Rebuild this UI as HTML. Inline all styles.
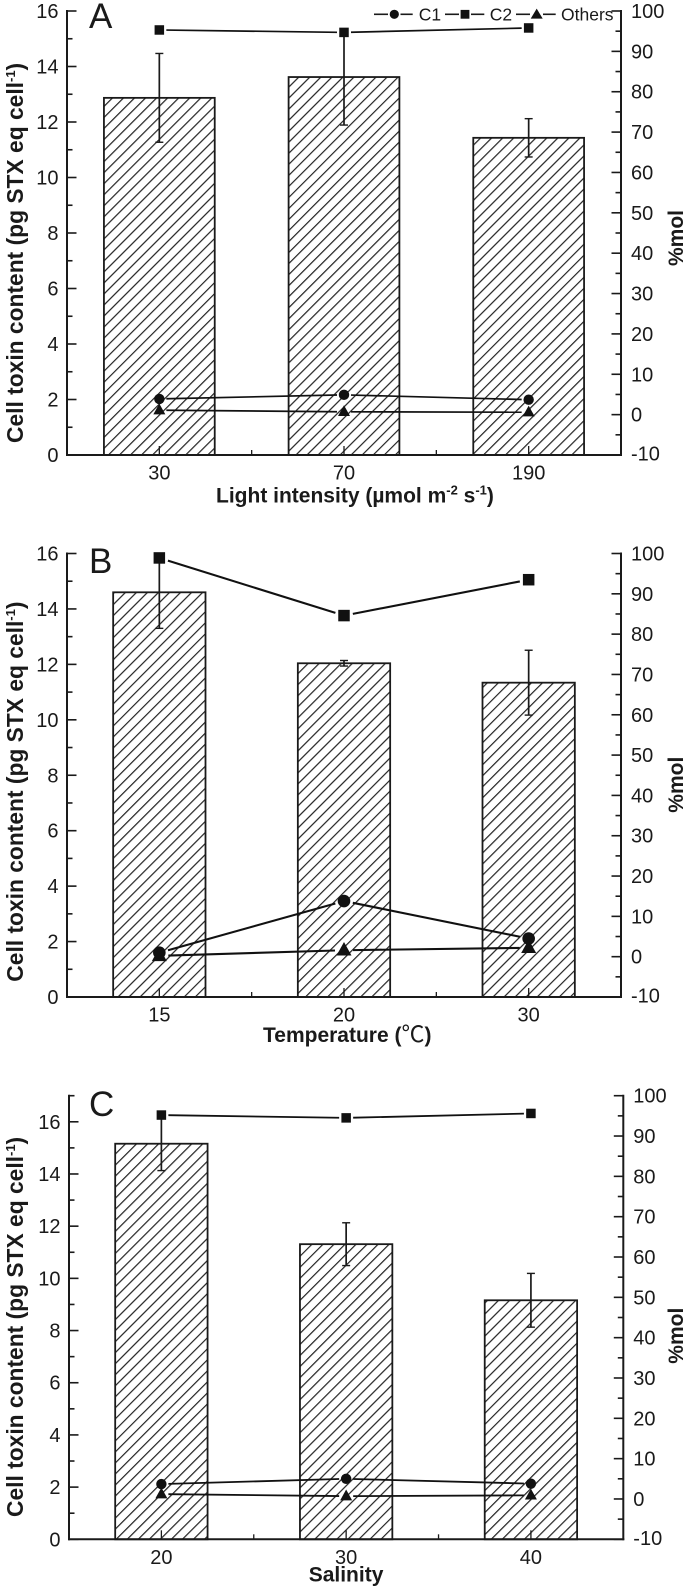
<!DOCTYPE html>
<html lang="en">
<head>
<meta charset="utf-8">
<title>Cell toxin content under light, temperature and salinity</title>
<style>
html,body{margin:0;padding:0;background:#fff;}
svg{display:block;}
text{font-family:"Liberation Sans","Noto Sans CJK SC",sans-serif;fill:#1a1a1a;}
.tick{font-size:20px;}
.title{font-size:21px;font-weight:bold;}
.ytitle{font-size:22.8px;font-weight:bold;}
.letter{font-size:35px;}
.leg{font-size:17.5px;}
</style>
</head>
<body>
<svg id="figure" width="685" height="1589" viewBox="0 0 685 1589" xmlns="http://www.w3.org/2000/svg">
  <defs>
    <pattern id="hatch" patternUnits="userSpaceOnUse" width="7.8" height="7.8" patternTransform="rotate(-45)">
      <line x1="0" y1="0.6" x2="7.8" y2="0.6" stroke="#222" stroke-width="1.2"/>
    </pattern>
  </defs>
  <rect width="685" height="1589" fill="#fff"/>

  <g id="panel-a"></g>
  <g id="panel-b"></g>
  <g id="panel-c"></g>

  <text class="letter" x="89" y="28">A</text>
  <text class="letter" x="89" y="573">B</text>
  <text class="letter" x="89" y="1116">C</text>

  <text class="ytitle" transform="translate(23,443) rotate(-90)">Cell toxin content (pg STX eq cell<tspan font-size="13" dy="-8">-1</tspan><tspan dy="8">)</tspan></text>
  <text class="ytitle" transform="translate(23,981.7) rotate(-90)">Cell toxin content (pg STX eq cell<tspan font-size="13" dy="-8">-1</tspan><tspan dy="8">)</tspan></text>
  <text class="ytitle" transform="translate(23,1517) rotate(-90)">Cell toxin content (pg STX eq cell<tspan font-size="13" dy="-8">-1</tspan><tspan dy="8">)</tspan></text>

  <text class="title" text-anchor="end" transform="translate(683,210) rotate(-90)">%mol</text>
  <text class="title" text-anchor="end" transform="translate(683,756.7) rotate(-90)">%mol</text>
  <text class="title" text-anchor="end" transform="translate(683,1307.7) rotate(-90)">%mol</text>

  <text class="title" x="216" y="502.7">Light intensity (µmol m<tspan font-size="13" dy="-8">-2</tspan><tspan dy="8"> s</tspan><tspan font-size="13" dy="-8">-1</tspan><tspan dy="8">)</tspan></text>
  <text class="title" x="263" y="1042">Temperature (<tspan font-weight="normal" font-size="23">℃</tspan>)</text>
  <text class="title" x="308.7" y="1581.7">Salinity</text>

  <g>
    <g>
      <line x1="374" y1="14.3" x2="388" y2="14.3" stroke="#1a1a1a" stroke-width="1.6"/>
      <line x1="400.5" y1="14.3" x2="412.7" y2="14.3" stroke="#1a1a1a" stroke-width="1.6"/>
      <circle cx="394.3" cy="14.3" r="4.6" fill="#111"/>
      <text class="leg" x="418.7" y="20.5">C1</text>
    </g>
    <g>
      <line x1="445" y1="14.3" x2="459" y2="14.3" stroke="#1a1a1a" stroke-width="1.6"/>
      <line x1="471" y1="14.3" x2="484.3" y2="14.3" stroke="#1a1a1a" stroke-width="1.6"/>
      <rect x="460.6" y="9.9" width="8.8" height="8.8" fill="#111"/>
      <text class="leg" x="489.7" y="20.5">C2</text>
    </g>
    <g>
      <line x1="516" y1="14.3" x2="530" y2="14.3" stroke="#1a1a1a" stroke-width="1.6"/>
      <line x1="543" y1="14.3" x2="555.7" y2="14.3" stroke="#1a1a1a" stroke-width="1.6"/>
      <polygon points="536.7,8.6 542.7,18.6 530.7,18.6" fill="#111"/>
      <text class="leg" x="561" y="20.5">Others</text>
    </g>
  </g>
</svg>

<script>
// Tick labels
var leftTickLabels = [0, 2, 4, 6, 8, 10, 12, 14, 16];
var rightTickLabels = [-10, 0, 10, 20, 30, 40, 50, 60, 70, 80, 90, 100];

// Panel A: light intensity
var lightCategories = ['30', '70', '190'];
var lightToxin = [12.87, 13.62, 11.43];
var lightError = [1.6, 1.73, 0.69];
var lightC1 = [3.9, 4.9, 3.7];
var lightC2 = [95.3, 94.7, 95.8];
var lightOthers = [1.1, 0.7, 0.6];

// Panel B: temperature
var tempCategories = ['15', '20', '30'];
var tempToxin = [14.6, 12.04, 11.34];
var tempError = [1.3, 0.1, 1.17];
var tempC1 = [1.0, 13.8, 4.5];
var tempC2 = [98.9, 84.6, 93.5];
var tempOthers = [0.2, 1.6, 2.2];

// Panel C: salinity
var salinityCategories = ['20', '30', '40'];
var salinityToxin = [15.16, 11.31, 9.16];
var salinityError = [1.03, 0.82, 1.03];
var salinityC1 = [3.7, 5.0, 3.8];
var salinityC2 = [95.2, 94.5, 95.6];
var salinityOthers = [1.2, 0.7, 0.9];

var NS = 'http://www.w3.org/2000/svg';
var INK = '#1a1a1a';

function node(parent, tag, attrs) {
  var el = document.createElementNS(NS, tag);
  for (var k in attrs) el.setAttribute(k, attrs[k]);
  parent.appendChild(el);
  return el;
}

function drawPanel(cfg, categories, toxin, error, c1, c2, others) {
  var root = document.getElementById(cfg.id);
  var step = (cfg.x1 - cfg.x0) / categories.length;
  function xScale(i) { return cfg.x0 + (i + 0.5) * step; }
  function yLeft(v) { return cfg.bottom - v * (cfg.bottom - cfg.top) / cfg.leftMax; }
  function yRight(v) { return cfg.bottom - (v + 10) * (cfg.bottom - cfg.top) / 110; }
  var barWidth = step * cfg.barFrac;

  // bars
  toxin.forEach(function (v, i) {
    var el = node(root, 'rect', {
      x: xScale(i) - barWidth / 2, y: yLeft(v), width: barWidth, height: yLeft(0) - yLeft(v),
      fill: 'url(#hatch)', stroke: INK, 'stroke-width': 1.8
    });
    
    
  });

  // x ticks and labels
  categories.forEach(function (c, i) {
    var t = node(root, 'line', { x1: xScale(i), x2: xScale(i), y1: cfg.bottom, y2: cfg.bottom - 9, stroke: INK, 'stroke-width': 1.3 });
    
    
    var lab = node(root, 'text', { 'class': 'tick', x: xScale(i), y: cfg.bottom + 24.5, 'text-anchor': 'middle' });
    lab.textContent = c;
    
    
    if (i < categories.length - 1) {
      var m = node(root, 'line', { x1: xScale(i + 0.5), x2: xScale(i + 0.5), y1: cfg.bottom, y2: cfg.bottom - 5, stroke: INK, 'stroke-width': 1.3 });
      
      
    }
  });

  // left axis
  var la = node(root, 'line', { x1: cfg.x0, x2: cfg.x0, y1: cfg.top - 1, y2: cfg.bottom + 1, stroke: INK, 'stroke-width': 2 });
  
  
  for (var v = 0; v <= cfg.leftMax; v++) {
    var major = leftTickLabels.indexOf(v) >= 0;
    var lt = node(root, 'line', { x1: cfg.x0, x2: cfg.x0 + (major ? 9.5 : 5.5), y1: yLeft(v), y2: yLeft(v), stroke: INK, 'stroke-width': 1.6 });
    
    
  }
  leftTickLabels.forEach(function (v) {
    var lab = node(root, 'text', { 'class': 'tick', x: cfg.x0 - 8.5, y: yLeft(v) + 7, 'text-anchor': 'end' });
    lab.textContent = v;
    
    
  });

  // right axis
  var ra = node(root, 'line', { x1: cfg.x1, x2: cfg.x1, y1: cfg.top - 1, y2: cfg.bottom + 1, stroke: INK, 'stroke-width': 2 });
  
  
  rightTickLabels.forEach(function (v, i) {
    var rt = node(root, 'line', { x1: cfg.x1, x2: cfg.x1 - 9.5, y1: yRight(v), y2: yRight(v), stroke: INK, 'stroke-width': 1.6 });
    
    
    if (i < rightTickLabels.length - 1) {
      var rm = node(root, 'line', { x1: cfg.x1, x2: cfg.x1 - 5.5, y1: yRight(v + 5), y2: yRight(v + 5), stroke: INK, 'stroke-width': 1.6 });
      
      
    }
    var lab = node(root, 'text', { 'class': 'tick', x: cfg.x1 + 10, y: yRight(v) + (v === -10 ? 5.5 : 7) });
    lab.textContent = v;
    
    
  });

  // bottom axis
  var ba = node(root, 'line', { x1: cfg.x0 - 1, x2: cfg.x1 + 1, y1: cfg.bottom, y2: cfg.bottom, stroke: INK, 'stroke-width': 2 });
  
  

  // error bars
  toxin.forEach(function (v, i) {
    var x = xScale(i), hi = yLeft(v + error[i]), lo = yLeft(v - error[i]);
    var s = node(root, 'line', { x1: x, x2: x, y1: hi, y2: lo, stroke: INK, 'stroke-width': 1.7 });
    
    
    var a = node(root, 'line', { x1: x - 4, x2: x + 4, y1: hi, y2: hi, stroke: INK, 'stroke-width': 1.4 });
    
    
    var b = node(root, 'line', { x1: x - 4, x2: x + 4, y1: lo, y2: lo, stroke: INK, 'stroke-width': 1.4 });
    
    
  });

  // line segments, gapped near the markers
  function drawSegments(series) {
    for (var i = 0; i < series.length - 1; i++) {
      var ax = xScale(i), ay = yRight(series[i]), bx = xScale(i + 1), by = yRight(series[i + 1]);
      var len = Math.sqrt((bx - ax) * (bx - ax) + (by - ay) * (by - ay));
      var ux = (bx - ax) / len, uy = (by - ay) / len;
      var seg = node(root, 'line', {
        x1: ax + ux * cfg.gap, y1: ay + uy * cfg.gap, x2: bx - ux * cfg.gap, y2: by - uy * cfg.gap,
        stroke: '#111', 'stroke-width': cfg.lineWidth
      });
      
      
    }
  }
  drawSegments(c2);
  drawSegments(c1);
  drawSegments(others);

  // markers
  c2.forEach(function (v, i) {
    var s = cfg.square;
    var el = node(root, 'rect', { x: xScale(i) - s / 2, y: yRight(v) - s / 2, width: s, height: s, fill: '#111' });
    
    
  });
  others.forEach(function (v, i) {
    var w = cfg.triangle, x = xScale(i), y = yRight(v);
    var pts = x + ',' + (y - w * 0.55) + ' ' + (x + w / 2) + ',' + (y + w * 0.35) + ' ' + (x - w / 2) + ',' + (y + w * 0.35);
    var el = node(root, 'polygon', { points: pts, fill: '#111' });
    
    
  });
  c1.forEach(function (v, i) {
    var el = node(root, 'circle', { cx: xScale(i), cy: yRight(v), r: cfg.circle, fill: '#111' });
    
    
  });
}

drawPanel({ id: 'panel-a', x0: 67, x1: 621, top: 11, bottom: 455, leftMax: 16, barFrac: 0.6,
  gap: 7, lineWidth: 1.7, square: 9.5, triangle: 12, circle: 5.2 },
  lightCategories, lightToxin, lightError, lightC1, lightC2, lightOthers);

drawPanel({ id: 'panel-b', x0: 67, x1: 621, top: 553.5, bottom: 997, leftMax: 16, barFrac: 0.5,
  gap: 9, lineWidth: 2.1, square: 11.5, triangle: 15, circle: 6.3 },
  tempCategories, tempToxin, tempError, tempC1, tempC2, tempOthers);

drawPanel({ id: 'panel-c', x0: 69, x1: 623.3, top: 1095.7, bottom: 1539.3, leftMax: 17, barFrac: 0.5,
  gap: 7, lineWidth: 1.8, square: 9.5, triangle: 12, circle: 5.2 },
  salinityCategories, salinityToxin, salinityError, salinityC1, salinityC2, salinityOthers);
</script>
</body>
</html>
